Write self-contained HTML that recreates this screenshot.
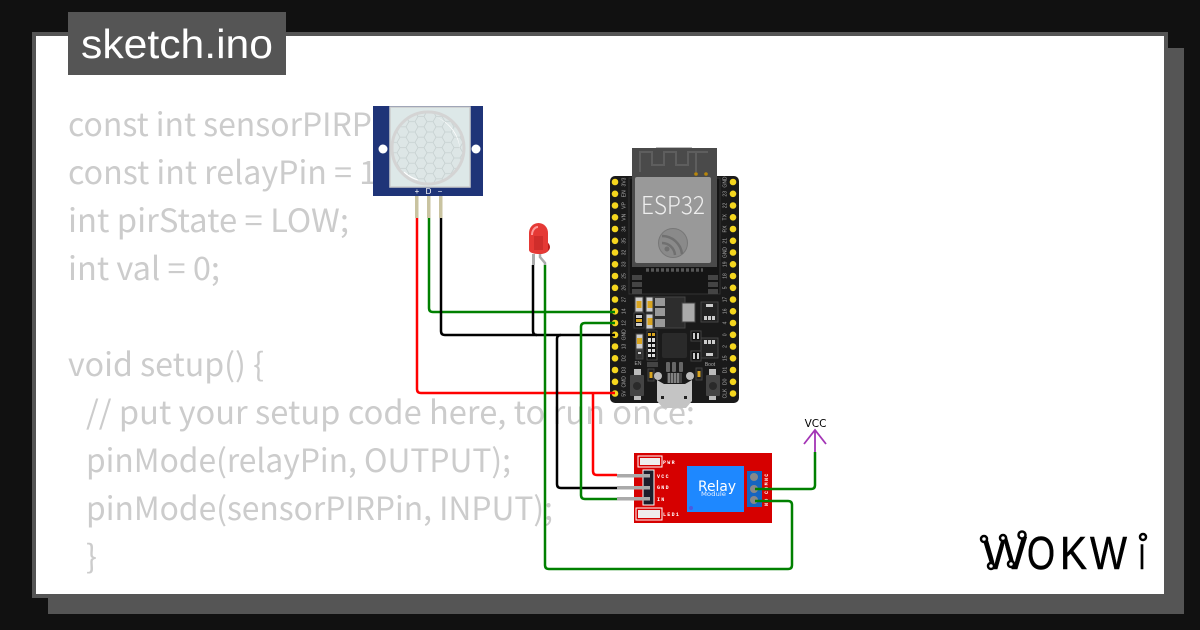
<!DOCTYPE html>
<html><head><meta charset="utf-8"><style>
html,body{margin:0;padding:0;background:#111;width:1200px;height:630px;overflow:hidden}
svg{display:block}
.c{font-family:"Noto Sans CJK JP","Liberation Sans",sans-serif;font-size:32px;fill:#ccc}
.p{font-family:"Liberation Sans",sans-serif;font-size:5px;fill:#aaa;text-anchor:middle}
.r{font-family:"Liberation Mono",monospace;font-size:5px;fill:#fff;font-weight:bold;letter-spacing:1.3px}
.w{fill:none;stroke-width:2.5;stroke-linejoin:round}
.l{font-family:"Liberation Sans",sans-serif;font-size:46px;fill:#000;stroke:#000;stroke-width:.5px}
</style></head><body>
<svg width="1200" height="630" viewBox="0 0 1200 630" xmlns="http://www.w3.org/2000/svg">
<defs>
<pattern id="hex" width="18" height="10.4" patternUnits="userSpaceOnUse" x="1" y="2">
<path d="M0 5.2L3 0H9L12 5.2L9 10.4H3ZM12 5.2H18" fill="none" stroke="#c6d0d0" stroke-width=".8"/>
</pattern>
</defs>
<rect width="1200" height="630" fill="#111"/>
<rect x="48" y="48" width="1136" height="566" fill="#555"/>
<rect x="34" y="34" width="1132" height="562" fill="#fff" stroke="#555" stroke-width="4"/>
<rect x="68" y="12" width="218" height="63" fill="#555"/>
<text x="81" y="58" font-family="'Liberation Sans',sans-serif" font-size="41" fill="#fff" textLength="192" lengthAdjust="spacingAndGlyphs">sketch.ino</text>

<text class="c" x="68" y="136" textLength="304" lengthAdjust="spacingAndGlyphs">const int sensorPIRP</text>
<text class="c" x="68" y="184" textLength="309" lengthAdjust="spacingAndGlyphs">const int relayPin = 1</text>
<text class="c" x="68" y="232" textLength="281" lengthAdjust="spacingAndGlyphs">int pirState = LOW;</text>
<text class="c" x="68" y="280" textLength="152" lengthAdjust="spacingAndGlyphs">int val = 0;</text>
<text class="c" x="68" y="376" textLength="196" lengthAdjust="spacingAndGlyphs">void setup() {</text>
<text class="c" x="86" y="424" textLength="609" lengthAdjust="spacingAndGlyphs">// put your setup code here, to run once:</text>
<text class="c" x="86" y="472" textLength="425" lengthAdjust="spacingAndGlyphs">pinMode(relayPin, OUTPUT);</text>
<text class="c" x="86" y="520" textLength="467" lengthAdjust="spacingAndGlyphs">pinMode(sensorPIRPin, INPUT);</text>
<text class="c" x="86" y="568" textLength="11" lengthAdjust="spacingAndGlyphs">}</text>

<!-- ESP32 board -->
<rect x="610" y="176" width="129" height="227" rx="5" fill="#1a1a1a"/>
<rect x="629" y="178" width="91" height="116" fill="#151515" stroke="#333" stroke-width="1"/>
<rect x="656" y="147" width="36" height="2" fill="#bbb"/>
<rect x="632" y="148" width="85" height="119" fill="#4a4a4a"/>
<path d="M640 172V152H652V165H664V152H676V165H688V152H708M696 152V172" fill="none" stroke="#5e5e5e" stroke-width="2"/>
<circle cx="696" cy="174" r="1.8" fill="#b8860b"/><circle cx="706" cy="174" r="1.8" fill="#b8860b"/>
<rect x="635" y="177" width="76" height="86" rx="2" fill="#999"/>
<text x="641" y="214" font-family="'Noto Sans CJK JP','Liberation Sans',sans-serif" font-weight="300" font-size="25" fill="#eee" textLength="64" lengthAdjust="spacingAndGlyphs">ESP32</text>
<circle cx="673" cy="243" r="14.5" fill="#8a8a8a" stroke="#777" stroke-width="1"/>
<path d="M662 236a20 20 0 0 1 20 18M662 243a13 13 0 0 1 13 12" fill="none" stroke="#707070" stroke-width="2.5"/>
<circle cx="667" cy="249" r="2.5" fill="#707070"/>
<line x1="646" y1="270" x2="703" y2="270" stroke="#555" stroke-width="3.500" stroke-dasharray="3 2"/>
<rect x="632" y="275" width="10" height="5" fill="#444"/><rect x="632" y="282" width="10" height="5" fill="#444"/><rect x="632" y="289" width="10" height="5" fill="#444"/>
<rect x="708" y="275" width="10" height="5" fill="#444"/><rect x="708" y="282" width="10" height="5" fill="#444"/><rect x="708" y="289" width="10" height="5" fill="#444"/>

<!-- passives -->
<g>
<rect x="635" y="297" width="8" height="15" fill="#ccc" stroke="#444"/><rect x="636.5" y="301" width="5" height="7" fill="#d9a520"/>
<rect x="646" y="297" width="8" height="15" fill="#ccc" stroke="#444"/><rect x="647.5" y="301" width="5" height="7" fill="#d9a520"/>
<rect x="634" y="313" width="10" height="15" fill="#111" stroke="#444"/><rect x="636" y="315" width="6" height="3" fill="#ccc"/><rect x="636" y="319" width="6" height="3" fill="#d9a520"/><rect x="636" y="323" width="6" height="3" fill="#ccc"/>
<rect x="646" y="314" width="8" height="15" fill="#ccc" stroke="#444"/><rect x="647.5" y="318" width="5" height="7" fill="#d9a520"/>
<rect x="653" y="297" width="32" height="31" fill="#2d2d2d" stroke="#444"/>
<rect x="655" y="298" width="10" height="8" fill="#999"/><rect x="655" y="308" width="10" height="8" fill="#999"/><rect x="655" y="319" width="10" height="8" fill="#999"/>
<rect x="682" y="303" width="13" height="19" fill="#aaa" stroke="#444"/>
<rect x="701" y="302" width="17" height="20" fill="#222" stroke="#444"/><rect x="704" y="316" width="3" height="4" fill="#ccc"/><rect x="708" y="316" width="3" height="4" fill="#ccc"/><rect x="712" y="316" width="3" height="4" fill="#ccc"/><rect x="706" y="304" width="7" height="3" fill="#ccc"/>
<rect x="701" y="338" width="17" height="20" fill="#222" stroke="#444"/><rect x="704" y="340" width="3" height="4" fill="#ccc"/><rect x="708" y="340" width="3" height="4" fill="#ccc"/><rect x="712" y="340" width="3" height="4" fill="#ccc"/><rect x="706" y="353" width="7" height="3" fill="#ccc"/>
<rect x="691" y="331" width="10" height="10" fill="#111" stroke="#444"/><rect x="693" y="333" width="2" height="6" fill="#ccc"/><rect x="697" y="333" width="2" height="6" fill="#ccc"/>
<rect x="691" y="351" width="10" height="10" fill="#111" stroke="#444"/><rect x="693" y="353" width="2" height="6" fill="#ccc"/><rect x="697" y="353" width="2" height="6" fill="#ccc"/>
<rect x="636" y="334" width="7" height="15" fill="#ccc" stroke="#444"/><rect x="637" y="338" width="5" height="6" fill="#d9a520"/>
<rect x="636" y="350" width="7" height="9" fill="#333" stroke="#444"/><rect x="638" y="352" width="3" height="2" fill="#ccc"/>
<rect x="647" y="331" width="10" height="29" fill="#111" stroke="#444"/>
<rect x="648" y="333" width="3" height="3" fill="#d9a520"/><rect x="652" y="333" width="3" height="3" fill="#d9a520"/><rect x="648" y="338" width="3" height="4" fill="#ddd"/><rect x="652" y="338" width="3" height="4" fill="#ddd"/><rect x="648" y="344" width="3" height="3" fill="#ddd"/><rect x="652" y="344" width="3" height="3" fill="#ddd"/><rect x="648" y="349" width="3" height="3" fill="#ddd"/><rect x="652" y="349" width="3" height="3" fill="#ddd"/><rect x="648" y="354" width="3" height="3" fill="#ddd"/><rect x="652" y="354" width="3" height="3" fill="#ddd"/>
<rect x="662" y="333" width="25" height="25" rx="2" fill="#2a2a2a"/>
<rect x="647" y="362" width="11" height="5" fill="#444"/>
<rect x="666" y="362" width="4" height="10" rx="1" fill="#666"/><rect x="672" y="362" width="4" height="10" rx="1" fill="#666"/><rect x="679" y="362" width="4" height="10" rx="1" fill="#666"/>
<rect x="648" y="369" width="6" height="12" fill="#222" stroke="#444"/><rect x="649.500" y="372" width="3" height="6" fill="#d9a520"/>
<rect x="696" y="368" width="6" height="12" fill="#222" stroke="#444"/><rect x="697.500" y="371" width="3" height="6" fill="#d9a520"/>
</g>
<text x="638" y="365" font-family="'Liberation Sans',sans-serif" font-size="5" fill="#aaa" text-anchor="middle">EN</text>
<text x="710" y="366" font-family="'Liberation Sans',sans-serif" font-size="5" fill="#aaa" text-anchor="middle">Boot</text>
<!-- buttons -->
<rect x="634" y="369" width="7" height="6" fill="#bbb"/><rect x="634" y="394" width="7" height="6" fill="#bbb"/><rect x="630" y="375" width="14" height="21" rx="1" fill="#444"/><circle cx="637" cy="386" r="4" fill="#2a2a2a"/>
<rect x="709" y="369" width="7" height="6" fill="#bbb"/><rect x="709" y="394" width="7" height="6" fill="#bbb"/><rect x="706" y="375" width="14" height="21" rx="1" fill="#444"/><circle cx="713" cy="386" r="4" fill="#2a2a2a"/>
<!-- usb -->
<path d="M657 380L664 384H685L692 380V401L686 408H663L657 401Z" fill="#c4c4c4"/>
<circle cx="658" cy="376" r="4" fill="#bbb"/><circle cx="690" cy="376" r="4" fill="#bbb"/>
<rect x="667" y="373" width="15" height="10" fill="#444"/>
<path d="M669 373v10M672 373v10M675 373v10M678 373v10" stroke="#bbb" stroke-width="1"/>
<rect x="661" y="396" width="3" height="3" fill="#222"/><rect x="684" y="396" width="3" height="3" fill="#222"/>

<!-- pins -->
<g fill="#f5d61e">
<circle cx="615" cy="182" r="3.3"/><circle cx="615" cy="193.8" r="3.3"/><circle cx="615" cy="205.500" r="3.3"/><circle cx="615" cy="217.300" r="3.3"/><circle cx="615" cy="229" r="3.3"/><circle cx="615" cy="240.800" r="3.3"/><circle cx="615" cy="252.500" r="3.3"/><circle cx="615" cy="264.300" r="3.3"/><circle cx="615" cy="276" r="3.3"/><circle cx="615" cy="287.800" r="3.3"/><circle cx="615" cy="299.500" r="3.3"/><circle cx="615" cy="311.300" r="3.3"/><circle cx="615" cy="323" r="3.3"/><circle cx="615" cy="334.800" r="3.3"/><circle cx="615" cy="346.500" r="3.3"/><circle cx="615" cy="358.300" r="3.3"/><circle cx="615" cy="370" r="3.3"/><circle cx="615" cy="381.800" r="3.3"/><circle cx="615" cy="393.500" r="3.3"/>
<circle cx="733" cy="182" r="3.3"/><circle cx="733" cy="193.8" r="3.3"/><circle cx="733" cy="205.500" r="3.3"/><circle cx="733" cy="217.300" r="3.3"/><circle cx="733" cy="229" r="3.3"/><circle cx="733" cy="240.800" r="3.3"/><circle cx="733" cy="252.500" r="3.3"/><circle cx="733" cy="264.300" r="3.3"/><circle cx="733" cy="276" r="3.3"/><circle cx="733" cy="287.800" r="3.3"/><circle cx="733" cy="299.500" r="3.3"/><circle cx="733" cy="311.300" r="3.3"/><circle cx="733" cy="323" r="3.3"/><circle cx="733" cy="334.800" r="3.3"/><circle cx="733" cy="346.500" r="3.3"/><circle cx="733" cy="358.300" r="3.3"/><circle cx="733" cy="370" r="3.3"/><circle cx="733" cy="381.800" r="3.3"/><circle cx="733" cy="393.500" r="3.3"/>
</g>
<g class="p">
<text class="p" transform="translate(625.500,182) rotate(-90)">3V3</text><text class="p" transform="translate(625.500,193.8) rotate(-90)">EN</text><text class="p" transform="translate(625.500,205.500) rotate(-90)">VP</text><text class="p" transform="translate(625.500,217.300) rotate(-90)">VN</text><text class="p" transform="translate(625.500,229) rotate(-90)">34</text><text class="p" transform="translate(625.500,240.800) rotate(-90)">35</text><text class="p" transform="translate(625.500,252.500) rotate(-90)">32</text><text class="p" transform="translate(625.500,264.300) rotate(-90)">33</text><text class="p" transform="translate(625.500,276) rotate(-90)">25</text><text class="p" transform="translate(625.500,287.800) rotate(-90)">26</text><text class="p" transform="translate(625.500,299.500) rotate(-90)">27</text><text class="p" transform="translate(625.500,311.300) rotate(-90)">14</text><text class="p" transform="translate(625.500,323) rotate(-90)">12</text><text class="p" transform="translate(625.500,334.800) rotate(-90)">GND</text><text class="p" transform="translate(625.500,346.500) rotate(-90)">13</text><text class="p" transform="translate(625.500,358.300) rotate(-90)">D2</text><text class="p" transform="translate(625.500,370) rotate(-90)">D3</text><text class="p" transform="translate(625.500,381.800) rotate(-90)">CMD</text><text class="p" transform="translate(625.500,393.500) rotate(-90)">5V</text>
<text class="p" transform="translate(726.500,182) rotate(-90)">GND</text><text class="p" transform="translate(726.500,193.8) rotate(-90)">23</text><text class="p" transform="translate(726.500,205.500) rotate(-90)">22</text><text class="p" transform="translate(726.500,217.300) rotate(-90)">TX</text><text class="p" transform="translate(726.500,229) rotate(-90)">RX</text><text class="p" transform="translate(726.500,240.800) rotate(-90)">21</text><text class="p" transform="translate(726.500,252.500) rotate(-90)">GND</text><text class="p" transform="translate(726.500,264.300) rotate(-90)">19</text><text class="p" transform="translate(726.500,276) rotate(-90)">18</text><text class="p" transform="translate(726.500,287.800) rotate(-90)">5</text><text class="p" transform="translate(726.500,299.500) rotate(-90)">17</text><text class="p" transform="translate(726.500,311.300) rotate(-90)">16</text><text class="p" transform="translate(726.500,323) rotate(-90)">4</text><text class="p" transform="translate(726.500,334.800) rotate(-90)">0</text><text class="p" transform="translate(726.500,346.500) rotate(-90)">2</text><text class="p" transform="translate(726.500,358.300) rotate(-90)">15</text><text class="p" transform="translate(726.500,370) rotate(-90)">D1</text><text class="p" transform="translate(726.500,381.800) rotate(-90)">D0</text><text class="p" transform="translate(726.500,393.500) rotate(-90)">CLK</text>
</g>

<!-- PIR -->
<rect x="373" y="106" width="110" height="90" fill="#1f3478"/>
<rect x="390" y="107" width="80" height="80" fill="#dde8e8" stroke="#ccc" stroke-width="1.5"/>
<circle cx="428" cy="148" r="36" fill="#dde6e6"/>
<circle cx="428" cy="148" r="36" fill="url(#hex)" stroke="#d4d4d4" stroke-width="3"/>
<path d="M436 117a36 36 0 0 1 24 33a40 40 0 0 0-24-33z" fill="#fff"/>
<path d="M404 172a34 34 0 0 0 14 8a40 40 0 0 1-14-8z" fill="#fff" stroke="#fff"/>
<circle cx="383" cy="149" r="4.500" fill="#fff"/><circle cx="476" cy="149" r="4.500" fill="#fff"/>
<text x="417" y="194" font-family="'Liberation Sans',sans-serif" font-size="8" fill="#fff" text-anchor="middle">+</text>
<text x="428.500" y="194" font-family="'Liberation Sans',sans-serif" font-size="8" fill="#fff" text-anchor="middle">D</text>
<text x="440" y="194" font-family="'Liberation Sans',sans-serif" font-size="8" fill="#fff" text-anchor="middle">−</text>
<rect x="415" y="196" width="3.500" height="22" fill="#c9c3a0"/><rect x="427" y="196" width="3.500" height="22" fill="#c9c3a0"/><rect x="439" y="196" width="3.500" height="22" fill="#c9c3a0"/>

<!-- LED -->
<rect x="532" y="254" width="3" height="11" fill="#aaa"/>
<path d="M540 254v3l5 6v2" fill="none" stroke="#aaa" stroke-width="2.500"/>
<ellipse cx="540" cy="247" rx="10" ry="7" fill="#b81c1c"/>
<path d="M529 233a9.500 10 0 0 1 19 0V250a9.500 4 0 0 1-19 0z" fill="#e53935"/>
<path d="M532 235a6 8 0 0 1 6-8" fill="none" stroke="#ff9a9a" stroke-width="2"/>
<path d="M534 236H543V250H534z" fill="#c62828" opacity=".7"/>

<!-- Relay -->
<rect x="634" y="453" width="138" height="70" fill="#d60000"/>
<rect x="687" y="466" width="57" height="46" fill="#1e88ff"/>
<text x="698" y="491" font-family="'DejaVu Sans',sans-serif" font-size="14" fill="#fff" textLength="38" lengthAdjust="spacingAndGlyphs">Relay</text>
<text x="701" y="496" font-family="'DejaVu Sans',sans-serif" font-size="6" fill="#e6f0ff" textLength="25" lengthAdjust="spacingAndGlyphs">Module</text>
<circle cx="691" cy="508" r="2" fill="#4a5ae0"/>
<rect x="747" y="471" width="15" height="36" fill="#1565c0"/>
<circle cx="754" cy="477" r="4" fill="#888"/><circle cx="754" cy="489" r="4" fill="#888"/><circle cx="754" cy="500" r="4" fill="#888"/>
<text class="r" transform="translate(768,481) rotate(-90)">NC</text><text class="r" transform="translate(768,494) rotate(-90)">COM</text><text class="r" transform="translate(768,506) rotate(-90)">NO</text>
<rect x="638" y="456" width="24" height="11" fill="none" stroke="#fff" stroke-width="1"/><rect x="640" y="458" width="20" height="7" fill="#eee"/>
<rect x="636" y="508" width="26" height="12" fill="none" stroke="#fff" stroke-width="1"/><rect x="638" y="510" width="22" height="8" fill="#eee"/>
<rect x="643" y="470" width="11" height="35" fill="#1c1c2a" stroke="#fff" stroke-width="1"/>
<rect x="617" y="474" width="33" height="3.500" fill="#aaa"/><rect x="617" y="486" width="33" height="3.500" fill="#aaa"/><rect x="617" y="497" width="33" height="3.500" fill="#aaa"/>
<text class="r" x="663" y="464">PWR</text><text class="r" x="657" y="478">VCC</text><text class="r" x="657" y="489">GND</text><text class="r" x="657" y="501">IN</text><text class="r" x="663" y="516">LED1</text>

<!-- VCC -->
<text x="815.500" y="427" font-family="'DejaVu Sans',sans-serif" font-size="10.500" fill="#000" text-anchor="middle">VCC</text>
<path d="M815 452V431M804 444L815 430L826 444" fill="none" stroke="#a335b5" stroke-width="1.800"/>

<!-- wires -->
<path class="w" stroke="#f00" d="M417 218V389Q417 393 421 393H615"/>
<path class="w" stroke="#f00" d="M593 393V471Q593 475 597 475H617"/>
<path class="w" stroke="#008000" d="M429 218V308Q429 312 433 312H615"/>
<path class="w" stroke="#000" d="M441 218V331Q441 335 445 335H615"/>
<path class="w" stroke="#000" d="M533 265V331Q533 335 537 335"/>
<path class="w" stroke="#000" d="M561 335Q557 335 557 339V484Q557 488 561 488H617"/>
<path class="w" stroke="#008000" d="M615 323H585Q581 323 581 327V495Q581 499 585 499H617"/>
<path class="w" stroke="#008000" d="M545 265V565Q545 569 549 569H788Q792 569 792 565V505Q792 501 788 501H755"/>
<path class="w" stroke="#008000" d="M755 489H811Q815 489 815 485V452"/>

<!-- logo -->
<text class="l" x="982" y="569" textLength="45" lengthAdjust="spacingAndGlyphs">W</text>
<text class="l" x="1027" y="569" textLength="28" lengthAdjust="spacingAndGlyphs">O</text>
<text class="l" x="1060" y="569" textLength="27" lengthAdjust="spacingAndGlyphs">K</text>
<text class="l" x="1090" y="569" textLength="37" lengthAdjust="spacingAndGlyphs">W</text>
<text class="l" x="1139" y="569" textLength="6" lengthAdjust="spacingAndGlyphs">i</text>
<g fill="#fff" stroke="#000" stroke-width="2.500">
<circle cx="984" cy="539" r="3"/><circle cx="1003" cy="538" r="3"/><circle cx="1022" cy="535" r="3.500"/><circle cx="991" cy="566" r="3"/><circle cx="1011" cy="564" r="3"/><circle cx="1143" cy="537" r="3"/>
</g>
</svg>
</body></html>
